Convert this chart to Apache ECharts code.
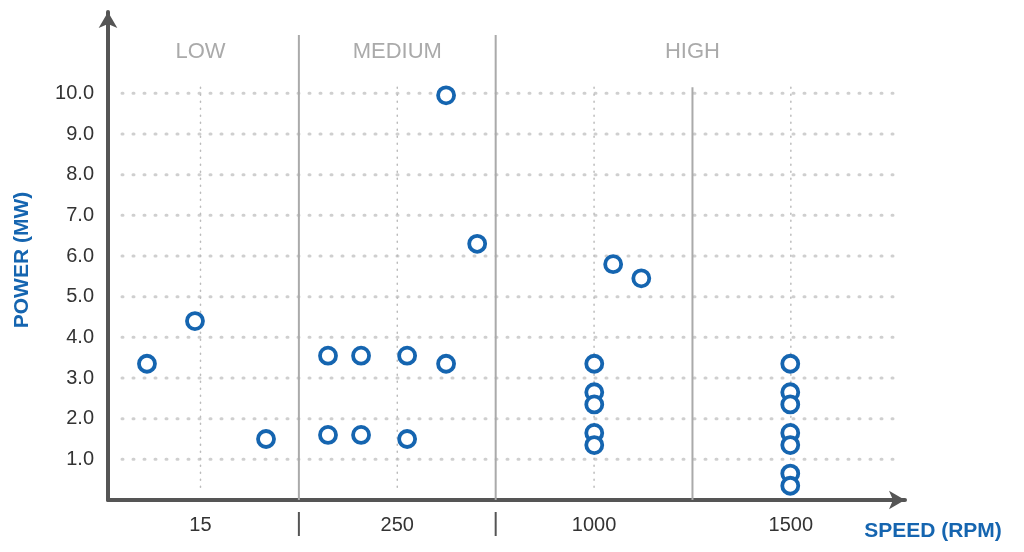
<!DOCTYPE html>
<html><head><meta charset="utf-8">
<script src="https://cdn.jsdelivr.net/npm/echarts@6/dist/echarts.min.js"></script>
<style>html,body{margin:0;padding:0;background:#fff}#c{width:1024px;height:552px}</style>
</head><body><div id="c"></div>
<script>
// x values are positions along the banded speed axis (section width = 1)
const pointX = [0.198,0.442,0.803,1.118,1.286,1.520,1.718,1.718,1.118,1.286,1.520,1.876,
  2.471,2.471,2.471,2.471,2.471,2.567,2.710,
  3.467,3.467,3.467,3.467,3.467,3.467,3.467];
const pointY = [3.35,4.4,1.5,3.55,3.55,3.55,3.35,9.95,1.6,1.6,1.5,6.3,
  3.35,2.65,2.35,1.65,1.35,5.8,5.45,
  3.35,2.65,2.35,1.65,1.35,0.65,0.35];
const tickPos = [0.47,1.47,2.47,3.47];
const tickLabels = ['15','250','1000','1500'];
const dividers = [0.97,1.97,2.97];
const sectionNames = ['LOW','MEDIUM','HIGH'];
const sectionPos = [0.47,1.47,2.97];
const yTicks = [1,2,3,4,5,6,7,8,9,10];

const chart = echarts.init(document.getElementById('c'));
const blue = '#1565b0';
chart.setOption({
  animation:false,
  grid:{left:108,right:119,top:12,bottom:52},
  xAxis:{type:'value',min:0,max:4.05,axisLabel:{show:false},axisTick:{show:false},splitLine:{show:false},
    axisLine:{lineStyle:{color:'#555',width:4},symbol:['none','arrow'],symbolSize:[14,16]}},
  yAxis:{type:'value',min:0,max:12,interval:1,splitLine:{show:false},axisTick:{show:false},
    axisLine:{lineStyle:{color:'#555',width:4},symbol:['none','arrow'],symbolSize:[14,16]},
    axisLabel:{margin:14,fontSize:20,color:'#333',fontFamily:'Liberation Sans',
      formatter:v=>(v>=1&&v<=10)?v.toFixed(1):''}},
  series:[{type:'scatter',data:pointX.map((x,i)=>[x,pointY[i]]),symbolSize:16,z:5,
    itemStyle:{color:'#fff',borderColor:blue,borderWidth:3.8,opacity:1}}]
});
const P=(x,y)=>chart.convertToPixel({gridIndex:0},[x,y]);
const g=[];
const left=P(0,0)[0], right=P(4.05,0)[0], y0=P(0,0)[1];
yTicks.forEach(v=>{const y=P(0,v)[1];
  g.push({type:'line',shape:{x1:left+14,y1:y,x2:right-8,y2:y},z:1,
    style:{stroke:'#cfcfcf',lineWidth:3,lineDash:[1,10],lineCap:'round'}});});
tickPos.forEach((t,i)=>{const x=P(t,0)[0];
  g.push({type:'line',shape:{x1:x,y1:P(0,10.15)[1],x2:x,y2:y0-8},z:1,
    style:{stroke:'#bbb',lineWidth:1.5,lineDash:[1,6],lineCap:'round'}});
  g.push({type:'text',x:x,y:525,z:3,style:{text:tickLabels[i],fill:'#333',fontSize:20,fontFamily:'Liberation Sans',align:'center',verticalAlign:'middle'}});});
dividers.forEach((d,i)=>{const x=P(d,0)[0];
  const top = i<2 ? 35 : P(0,10.15)[1];
  g.push({type:'line',shape:{x1:x,y1:top,x2:x,y2:y0},z:2,style:{stroke:'#aaa',lineWidth:2}});
  if(i<2) g.push({type:'line',shape:{x1:x,y1:y0+12,x2:x,y2:536},z:2,style:{stroke:'#555',lineWidth:2}});});
sectionNames.forEach((s,i)=>{g.push({type:'text',x:P(sectionPos[i],0)[0],y:52,z:3,
  style:{text:s,fill:'#aaa',fontSize:22,fontFamily:'Liberation Sans',align:'center',verticalAlign:'middle'}});});
g.push({type:'text',x:22,y:260,rotation:Math.PI/2,z:3,style:{text:'POWER (MW)',fill:blue,fontSize:21,fontWeight:'bold',fontFamily:'Liberation Sans',align:'center',verticalAlign:'middle'}});
g.push({type:'text',x:933,y:531,z:3,style:{text:'SPEED (RPM)',fill:blue,fontSize:21,fontWeight:'bold',fontFamily:'Liberation Sans',align:'center',verticalAlign:'middle'}});
chart.setOption({graphic:g});
</script></body></html>
